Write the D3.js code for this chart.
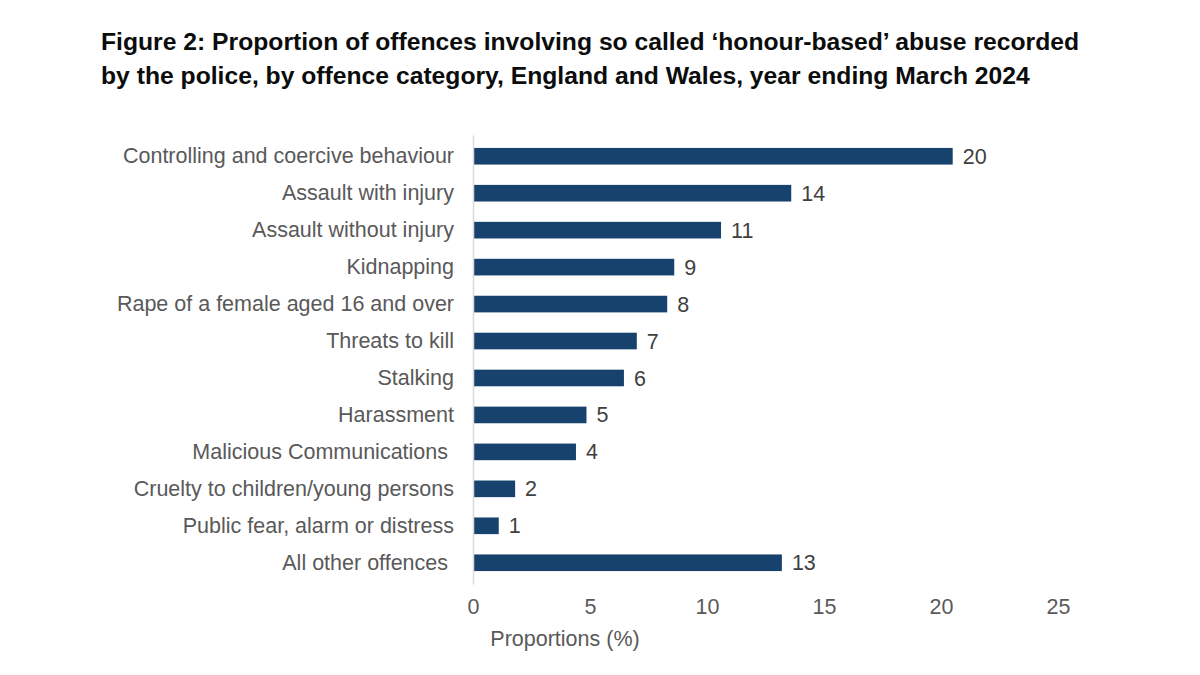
<!DOCTYPE html>
<html>
<head>
<meta charset="utf-8">
<script src="https://cdn.jsdelivr.net/npm/d3@7"></script>
<style>
  body { margin: 0; background: #fff; }
  text { font-family: "Liberation Sans", Arial, sans-serif; }
</style>
</head>
<body>
<div class="chart"></div>
<script>
'use strict';

// offence categories, top to bottom (trailing spaces kept as in the source)
var categories = [
  "Controlling and coercive behaviour",
  "Assault with injury",
  "Assault without injury",
  "Kidnapping",
  "Rape of a female aged 16 and over",
  "Threats to kill",
  "Stalking",
  "Harassment",
  "Malicious Communications ",
  "Cruelty to children/young persons",
  "Public fear, alarm or distress",
  "All other offences "
];

// bar lengths (%)
var values = [20.5, 13.6, 10.6, 8.6, 8.3, 7.0, 6.45, 4.85, 4.4, 1.8, 1.1, 13.2];

// printed data labels
var labels = ["20", "14", "11", "9", "8", "7", "6", "5", "4", "2", "1", "13"];

var xTicks = [0, 5, 10, 15, 20, 25];

var titleLines = [
  "Figure 2: Proportion of offences involving so called \u2018honour-based\u2019 abuse recorded",
  "by the police, by offence category, England and Wales, year ending March 2024"
];

var width = 1200, height = 675;
var margin = {top: 135, right: 142, bottom: 91, left: 473};
var fontSize = 21.5;

var svg = d3.select(".chart")
            .append("svg")
            .attr("width", width)
            .attr("height", height);

// title
svg.append("g")
   .selectAll("text")
   .data(titleLines)
   .enter().append("text")
   .attr("x", 101)
   .attr("y", function(d, i){ return 50 + i * 34; })
   .attr("font-size", 24.7)
   .attr("font-weight", "bold")
   .attr("fill", "#0b0c0c")
   .text(function(d){ return d; });

var x = d3.scaleLinear()
          .domain([0, 25])
          .range([margin.left, width - margin.right]);

var y = d3.scaleBand()
          .domain(categories)
          .range([margin.top, height - margin.bottom])
          .paddingInner(0.55)
          .paddingOuter(0.35);

// bars
svg.append("g")
   .selectAll("rect")
   .data(values)
   .enter().append("rect")
   .attr("x", x(0))
   .attr("y", function(d, i){ return y(categories[i]); })
   .attr("width", function(d){ return x(d) - x(0); })
   .attr("height", y.bandwidth())
   .attr("fill", "#17426e");

// value labels
svg.append("g")
   .selectAll("text")
   .data(values)
   .enter().append("text")
   .attr("x", function(d){ return x(d) + 10; })
   .attr("y", function(d, i){ return y(categories[i]) + y.bandwidth() / 2; })
   .attr("dy", "0.35em")
   .attr("font-size", fontSize)
   .attr("fill", "#404040")
   .text(function(d, i){ return labels[i]; });

// category axis (left)
var yAxis = svg.append("g")
               .attr("transform", "translate(" + x(0) + ",0)")
               .call(d3.axisLeft(y).tickSize(0).tickPadding(19));
yAxis.select(".domain")
     .attr("stroke", "#d9d9d9")
     .attr("stroke-width", 1.5);
yAxis.selectAll("text")
     .attr("font-size", fontSize)
     .attr("fill", "#595959")
     .style("white-space", "pre");

// value axis (bottom) - labels only
var xAxis = svg.append("g")
               .attr("transform", "translate(0," + (height - margin.bottom) + ")")
               .call(d3.axisBottom(x).tickValues(xTicks).tickSize(0).tickPadding(15));
xAxis.select(".domain").remove();
xAxis.selectAll("text")
     .attr("font-size", fontSize)
     .attr("fill", "#595959");

// axis title
svg.append("text")
   .attr("x", 565)
   .attr("y", 646)
   .attr("text-anchor", "middle")
   .attr("font-size", fontSize)
   .attr("fill", "#595959")
   .text("Proportions (%)");
</script>
</body>
</html>
